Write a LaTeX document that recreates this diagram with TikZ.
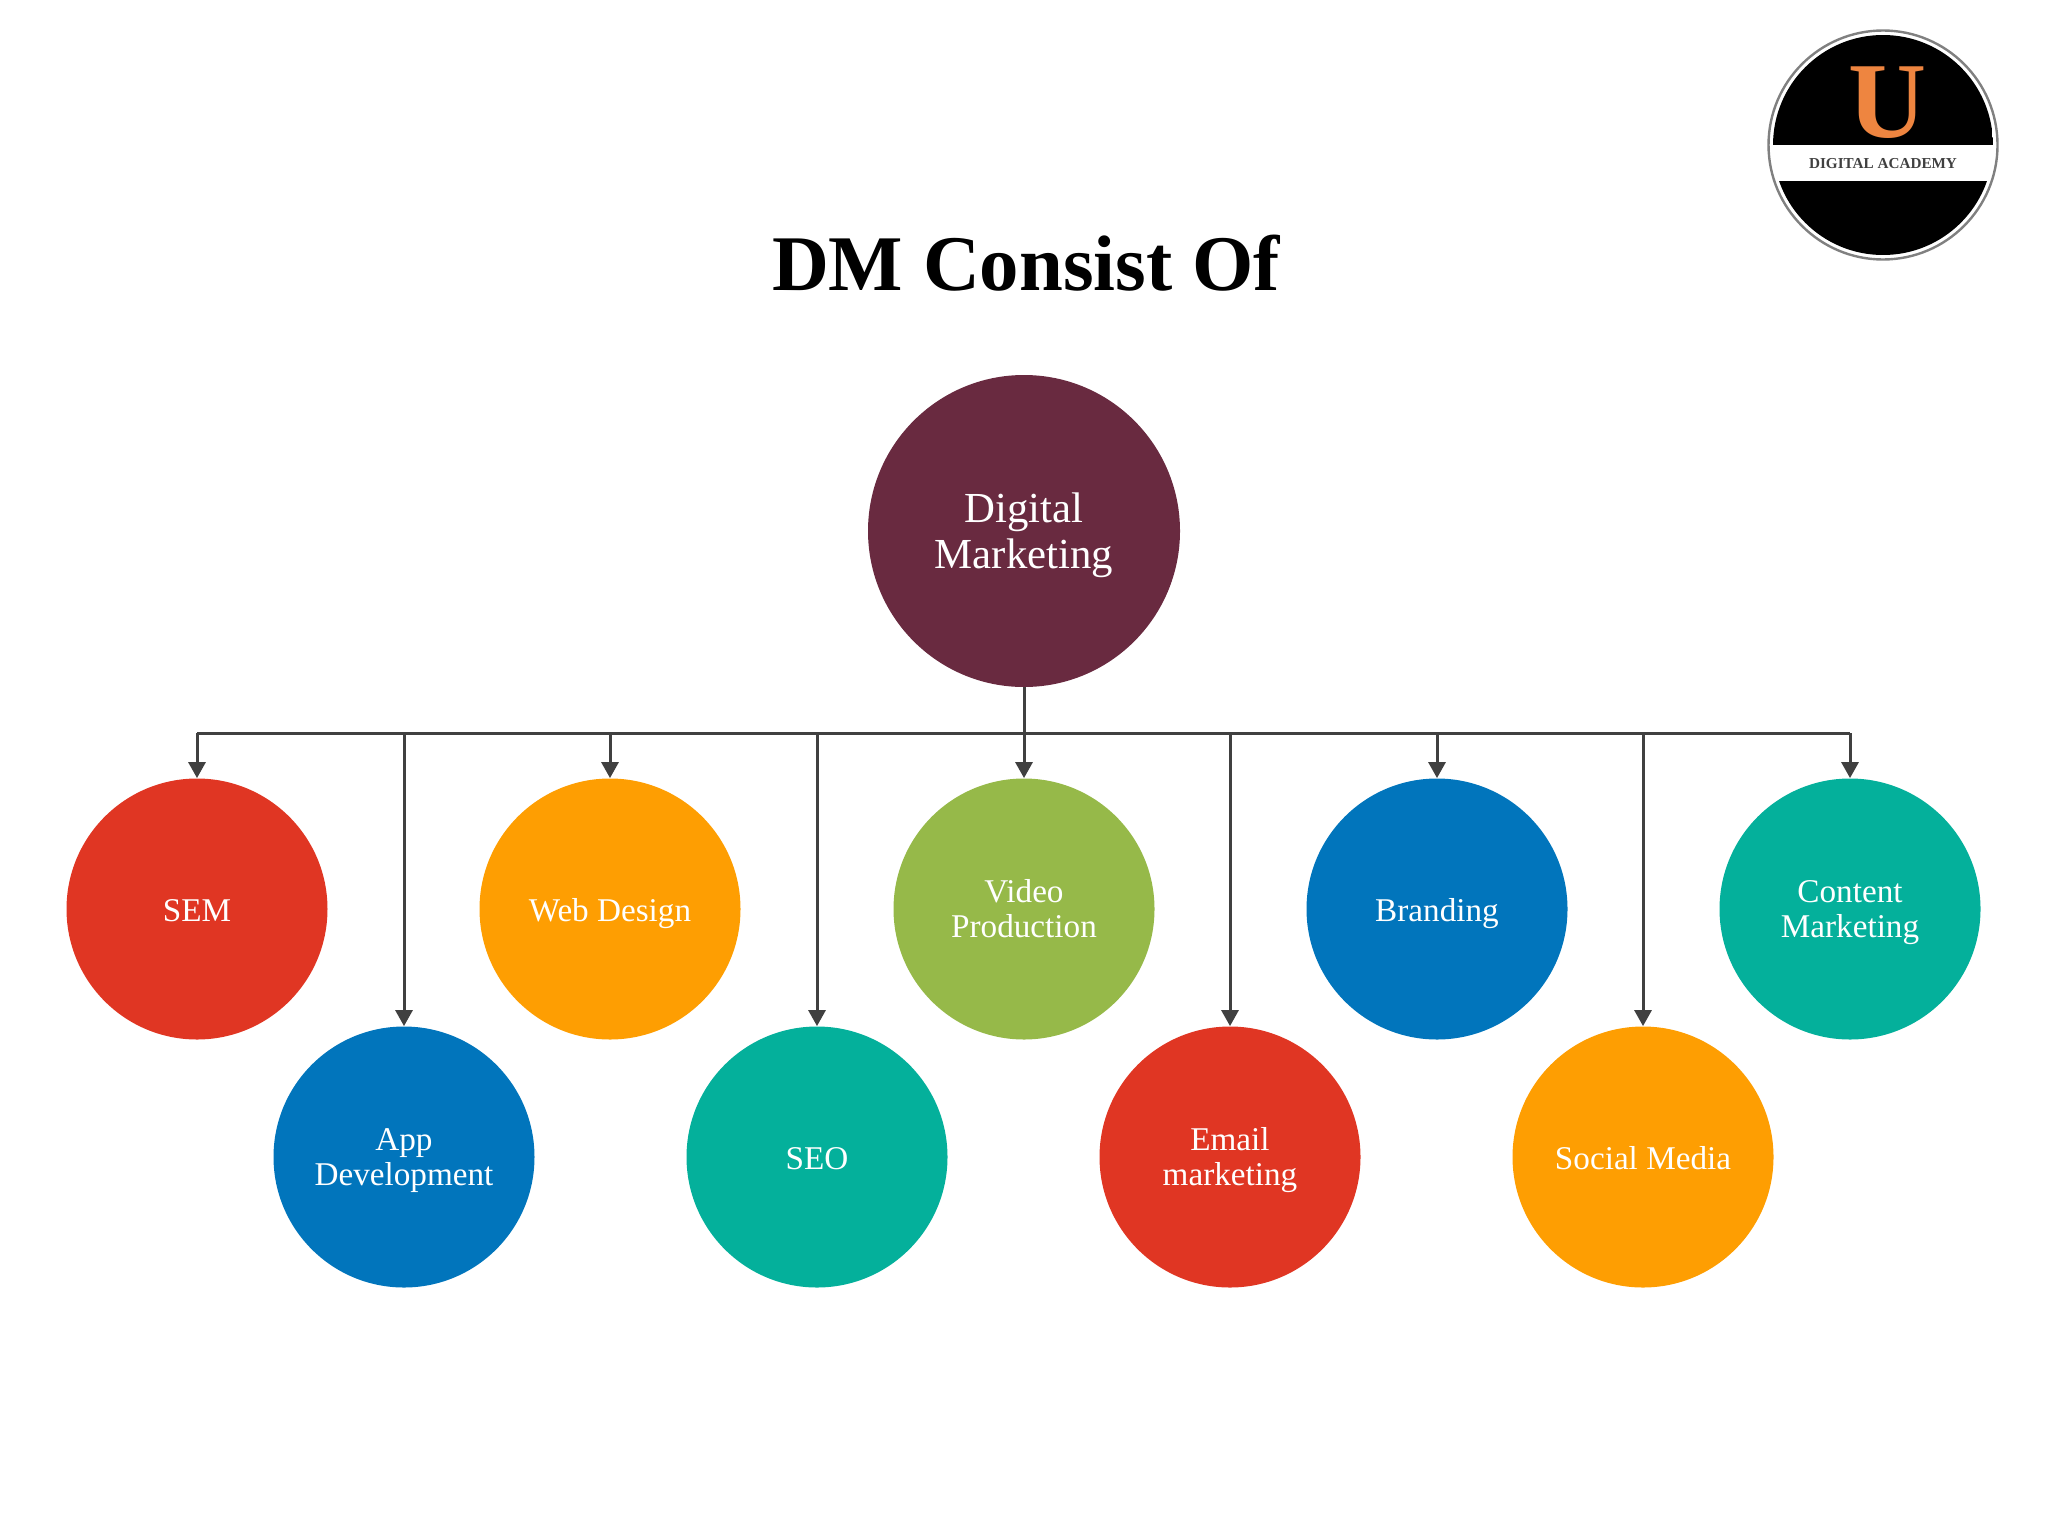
\documentclass[tikz,border=0pt]{standalone}
\usepackage{fontspec}
\setmainfont{Liberation Serif}
\usetikzlibrary{arrows.meta}
\definecolor{dmwine}{HTML}{692A40}
\definecolor{dmred}{HTML}{E03623}
\definecolor{dmblue}{HTML}{0175BC}
\definecolor{dmorange}{HTML}{FE9E02}
\definecolor{dmteal}{HTML}{04B09B}
\definecolor{dmgreen}{HTML}{96B949}
\definecolor{dmline}{HTML}{404040}
\definecolor{dmlogo}{HTML}{EE8540}
\newcommand{\firstline}{\rule{0pt}{1em}}
\tikzset{
  topic/.style={circle, fill=#1, text=white, minimum size=130.5pt, inner sep=0pt, align=center,
    font=\fontsize{16.6}{17.6}\selectfont,
    execute at begin node={\rule{0pt}{17.5pt}}, execute at end node=\strut},
  root/.style={circle, fill=dmwine, text=white, minimum size=156pt, inner sep=0pt, align=center,
    font=\fontsize{21.4}{23}\selectfont, execute at end node=\strut},
  link/.style={color=dmline, line width=1.5pt},
  linkto/.style={link, -{Triangle[length=8pt,width=8.5pt]}}
}
\begin{document}
\begin{tikzpicture}[x=0.5pt, y=-0.5pt]
    \useasboundingbox (0,0) rectangle (2048,1536);

    \node[font=\fontsize{39.4}{42}\selectfont\bfseries] (title) at (1026,263) {DM Consist Of};

    % logo
    \fill[white] (1883,145) circle(115);
    \begin{scope}
      \clip (1883,145) circle(110);
      \fill[black] (1773,35) rectangle (1993,145);
      \fill[black] (1773,181) rectangle (1993,255);
    \end{scope}
    \draw[color=gray, line width=1.2pt] (1883,145) circle(114.5);
    \node[text=dmlogo, inner sep=0pt, font=\fontsize{54}{54}\selectfont\bfseries] (logou) at (1887,103) {U};
    \node[text=black!75, inner sep=0pt, font=\fontsize{7.6}{8}\selectfont\bfseries] (logotext) at (1883,164) {DIGITAL ACADEMY};

    % circles
    \node[root] (dm) at (1024,531) {\firstline Digital\\Marketing};
    \node[topic=dmred] (sem) at (197,909) {SEM};
    \node[topic=dmblue] (app) at (404,1157) {\firstline App\\Development};
    \node[topic=dmorange] (web) at (610,909) {Web Design};
    \node[topic=dmteal] (seo) at (817,1157) {SEO};
    \node[topic=dmgreen] (video) at (1024,909) {\firstline Video\\Production};
    \node[topic=dmred] (email) at (1230,1157) {\firstline Email\\marketing};
    \node[topic=dmblue] (brand) at (1437,909) {Branding};
    \node[topic=dmorange] (social) at (1643,1157) {Social Media};
    \node[topic=dmteal] (content) at (1850,909) {\firstline Content\\Marketing};

    % connectors
    \coordinate (bar) at (1024,733);
    \draw[link] (dm.south) -- (bar);
    \draw[link] (bar -| sem.north) -- (bar -| content.north);
    \foreach \n in {sem,app,web,seo,video,email,brand,social,content}
      \draw[linkto] (bar -| \n.north) -- (\n.north);
\end{tikzpicture}
\end{document}
